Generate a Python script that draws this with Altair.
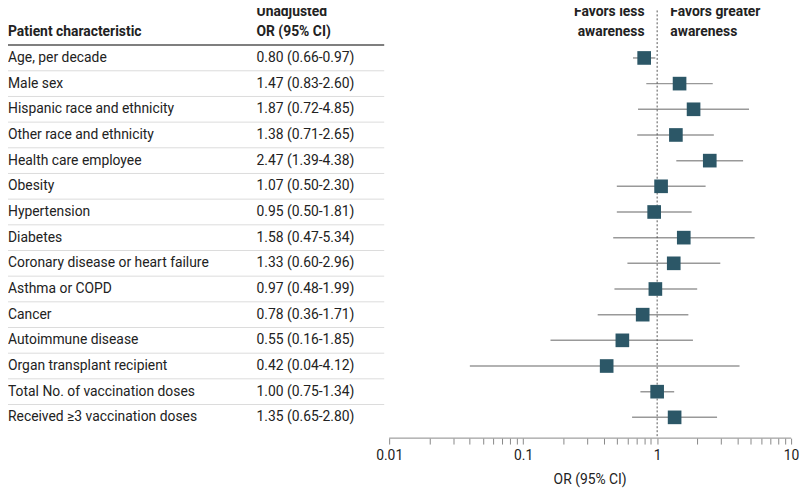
import altair as alt
import pandas as pd

characteristics = [
    "Age, per decade", "Male sex", "Hispanic race and ethnicity",
    "Other race and ethnicity", "Health care employee", "Obesity",
    "Hypertension", "Diabetes", "Coronary disease or heart failure",
    "Asthma or COPD", "Cancer", "Autoimmune disease",
    "Organ transplant recipient", "Total No. of vaccination doses",
    "Received \u22653 vaccination doses",
]
odds_ratio = [0.80, 1.47, 1.87, 1.38, 2.47, 1.07, 0.95, 1.58, 1.33, 0.97, 0.78, 0.55, 0.42, 1.00, 1.35]
ci_low = [0.66, 0.83, 0.72, 0.71, 1.39, 0.50, 0.50, 0.47, 0.60, 0.48, 0.36, 0.16, 0.04, 0.75, 0.65]
ci_high = [0.97, 2.60, 4.85, 2.65, 4.38, 2.30, 1.81, 5.34, 2.96, 1.99, 1.71, 1.85, 4.12, 1.34, 2.80]
axis_ticks = [0.01, 0.02, 0.03, 0.04, 0.05, 0.06, 0.07, 0.08, 0.09,
              0.1, 0.2, 0.3, 0.4, 0.5, 0.6, 0.7, 0.8, 0.9,
              1, 2, 3, 4, 5, 6, 7, 8, 9, 10]
header_texts = ["Patient characteristic", "Unadjusted", "OR (95% CI)",
                "Favors less", "awareness", "Favors greater", "awareness"]

df = pd.DataFrame({
    "row": list(range(len(characteristics))),
    "name": characteristics,
    "est": odds_ratio,
    "lo": ci_low,
    "hi": ci_high,
})
df["ci"] = [f"{o:.2f} ({l:.2f}-{h:.2f})" for o, l, h in zip(odds_ratio, ci_low, ci_high)]

FONT = "Roboto"
FS = 14
W, H = 794, 432

xscale = alt.Scale(type="log", domain=[1.429e-5, 10.52], nice=False)
yscale = alt.Scale(domain=[-1.851, 14.809], reverse=True, nice=False, zero=False)

xaxis = alt.Axis(
    values=axis_ticks,
    format="~g",
    labelExpr="(datum.value == 0.01 || datum.value == 0.1 || datum.value == 1 || datum.value == 10) ? datum.label : ''",
    title=None,
    grid=False,
    domain=False,
    tickColor="#888888",
    tickSize=6,
    labelFontSize=FS,
    labelColor="#222222",
    labelFont=FONT,
    labelPadding=5,
)


def X(f):
    return alt.X(f, scale=xscale, axis=xaxis)


def Y(f):
    return alt.Y(f, scale=yscale, axis=None)


base = alt.Chart(df)

whisk = base.mark_rule(color="#999999", strokeWidth=1.5).encode(
    x=X("lo:Q"), x2="hi:Q", y=Y("row:Q"),
)

squares = base.mark_square(size=190, color="#2c5767", opacity=1).encode(
    x=X("est:Q"), y=Y("row:Q"),
)

seps = base.transform_filter("datum.row < 14").transform_calculate(
    lo="1.429e-5", hi="0.00918", row="datum.row + 0.5"
).mark_rule(color="#dcdcdc", strokeWidth=1).encode(
    x=X("lo:Q"), x2="hi:Q", y=Y("row:Q"),
)

header_line = base.transform_filter("datum.row == 0").transform_calculate(
    lo="1.429e-5", hi="0.00918", row="-0.5"
).mark_rule(color="#555555", strokeWidth=1.5).encode(
    x=X("lo:Q"), x2="hi:Q", y=Y("row:Q"),
)

axis_line = base.transform_filter("datum.row == 0").transform_calculate(
    lo="0.01", hi="10", row="14.809"
).mark_rule(color="#888888", strokeWidth=1).encode(
    x=X("lo:Q"), x2="hi:Q", y=Y("row:Q"),
)

ref = base.transform_filter("datum.row == 0").transform_calculate(
    est="1", row="-1.851", hi="14.809"
).mark_rule(color="#555555", strokeDash=[2, 2], strokeWidth=1).encode(
    x=X("est:Q"), y=Y("row:Q"), y2="hi:Q",
)

names = base.mark_text(align="left", baseline="middle", fontSize=FS, font=FONT, color="#222222").encode(
    x=alt.value(0), y=Y("row:Q"), text="name:N",
)

cis = base.mark_text(align="left", baseline="middle", fontSize=FS, font=FONT, color="#222222").encode(
    x=alt.value(251), y=Y("row:Q"), text="ci:N",
)

hdr_rows = [-1.0, -1.77, -1.0, -1.77, -1.0, -1.77, -1.0]
hdr_df = pd.DataFrame({"label": header_texts, "k": list(range(len(header_texts))), "row": hdr_rows})

hdr_spec = [([0], 0, "left"), ([1, 2], 251, "left"), ([3, 4], 643, "right"), ([5, 6], 669, "left")]
hdr_layers = []
for ks, hx, ha in hdr_spec:
    cond = " || ".join(f"datum.k == {k}" for k in ks)
    hdr_layers.append(
        alt.Chart(hdr_df).transform_filter(cond).mark_text(
            align=ha, baseline="middle", fontSize=FS, fontWeight="bold",
            font=FONT, color="#222222"
        ).encode(x=alt.value(hx), y=Y("row:Q"), text="label:N")
    )

x_title = base.transform_filter("datum.row == 0").transform_calculate(
    name="'OR (95% CI)'", row="16.43"
).mark_text(
    align="center", baseline="middle", fontSize=FS, font=FONT, color="#222222"
).encode(x=alt.value(588), y=Y("row:Q"), text="name:N")

chart = alt.layer(
    whisk, seps, header_line, ref, axis_line, squares, names, cis, x_title, *hdr_layers
).properties(
    width=W, height=H,
    autosize=alt.AutoSizeParams(type="none"),
    padding={"left": 0, "top": 0, "right": 8, "bottom": 55},
).configure_view(stroke=None)

chart.save("out.html", embed_options={"renderer": "svg", "actions": False})
